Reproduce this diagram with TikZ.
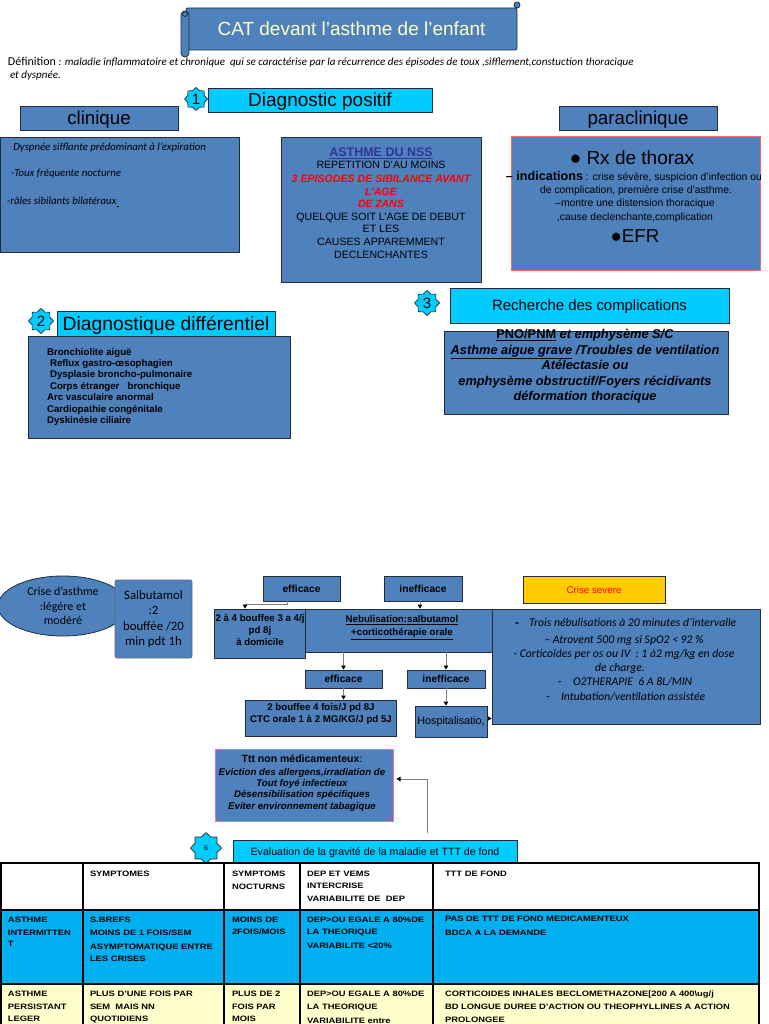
\documentclass[tikz,border=0pt]{standalone}
\usepackage{fontspec}
\setmainfont{Liberation Sans}
\newfontfamily\calfont{Carlito}
\newfontfamily\tblfont[FakeStretch=1.2]{Liberation Sans}
\usetikzlibrary{shapes.geometric,arrows.meta}
\definecolor{bF}{HTML}{4F81BD}
\definecolor{cF}{HTML}{00CCFF}
\definecolor{tC}{HTML}{00B0F0}
\definecolor{yR}{HTML}{FFFFCC}
\definecolor{bd}{HTML}{1F2D3D}
\definecolor{navy}{HTML}{333399}
\definecolor{pinkb}{HTML}{FF66CC}
\definecolor{redb}{HTML}{FF6666}
\definecolor{gold}{HTML}{FFCC00}
\definecolor{ttl}{HTML}{FFFFCC}
\newcommand\fs[2]{\fontsize{#1}{#2}\selectfont}
\newcounter{tn}
\newcommand\bx[7]{\node[#6, inner sep=0pt, minimum width={(#4-#2)*1pt}, minimum height={(#5-#3)*1pt}] (#1) at ({(#2+#4)/2},{(#3+#5)/2}) {#7};}
\newcommand\putt[4][]{\stepcounter{tn}\node[lbl,anchor=base,#1] (p\thetn) at (#2,#3) {#4};}
\begin{document}
\begin{tikzpicture}[x=1pt,y=-1pt,
  bb/.style={fill=bF, draw=bd, line width=0.8pt},
  cb/.style={fill=cF, draw=bd, line width=0.8pt},
  hd/.style={text depth=0pt},
  lbl/.style={inner sep=0pt, outer sep=0pt},
  conn/.style={draw=gray, line width=0.8pt, -{Triangle[length=4pt,width=4.5pt,color=black]}},
  badge/.style={star, star points=8, star point ratio=1.3, fill=cF, draw=bd, line width=0.7pt, inner sep=0pt},
  tfont/.style={font=\tblfont\bfseries\fs{7.8}{9}}]
\useasboundingbox (0,0) rectangle (768,1024);
\fill[white] (0,0) rectangle (768,1024);

% title scroll
\bx{title}{186}{8}{517}{50}{bb, hd, rounded corners=2pt}{\color{ttl}\fs{19}{22}CAT devant l’asthme de l’enfant}
\draw[bb] (517,5) circle (3);
\draw[bb, rounded corners=4pt] (181,11) rectangle (189,57);
\draw[bb] (185,14) circle (2.5);

% definition
\putt[anchor=base west]{8}{65.5}{\calfont\fs{12}{14}Définition {\itshape\fs{11}{13}: maladie inflammatoire et chronique\ \ qui se caractérise par la récurrence des épisodes de toux ,sifflement,constuction thoracique}}
\putt[anchor=base west]{10}{78.5}{\calfont\itshape\fs{11}{13}et dyspnée.}

% diagnostic positif
\node[badge, minimum size=23pt] (b1) at (196,99) {\fs{15}{15}1};
\bx{dp}{208}{88}{432}{112}{cb, hd}{\fs{19}{22}Diagnostic positif}

% clinique
\bx{cli}{20}{106}{178}{130}{bb, hd}{\fs{18.7}{21}clinique}
\bx{clic}{0}{137}{239}{252}{bb}{}
\putt[anchor=base west]{10}{150.5}{\calfont\itshape\fs{10.8}{13}{\color{red}-}Dyspnée sifflante prédominant à l’expiration}
\putt[anchor=base west]{11}{176.5}{\calfont\itshape\fs{10.8}{13}-Toux fréquente nocturne}
\putt[anchor=base west]{7}{204.5}{\calfont\itshape\fs{10.8}{13}-râles sibilants bilatéraux\underline{\ }}

% asthme du nss
\bx{nss}{281}{137}{481}{282}{bb}{}
\putt{381}{156.5}{\bfseries\fs{12.5}{14}\color{navy}\underline{ASTHME DU NSS}}
\putt{381}{168.8}{\fs{10.6}{12}REPETITION D’AU MOINS}
\putt{381}{182.8}{\bfseries\itshape\fs{10.6}{12}\color{red}3 EPISODES DE SIBILANCE AVANT}
\putt{381}{195.8}{\bfseries\itshape\fs{10.6}{12}\color{red}L’AGE}
\putt{381}{207.8}{\bfseries\itshape\fs{10.6}{12}\color{red}DE 2ANS}
\putt{381}{220.8}{\fs{10.6}{12}QUELQUE SOIT L’AGE DE DEBUT}
\putt{381}{232.8}{\fs{10.6}{12}ET LES}
\putt{381}{245.8}{\fs{10.6}{12}CAUSES APPAREMMENT}
\putt{381}{258.8}{\fs{10.6}{12}DECLENCHANTES}

% paraclinique
\bx{para}{559}{106}{717}{130}{bb, hd}{\fs{18.7}{21}paraclinique}
\bx{parac}{511}{137}{760}{270}{fill=bF, draw=redb, line width=1pt}{}
\putt{632}{165}{\fs{19}{21}● Rx de thorax}
\putt{634}{181}{{\bfseries\fs{12.6}{14}– indications}\fs{10.4}{12} : crise sévère, suspicion d’infection ou}
\putt{636}{193.7}{\fs{10.4}{12}de complication, première crise d’asthme.}
\putt{635}{206.7}{\fs{10.4}{12}–montre une distension thoracique}
\putt{635}{220.7}{\fs{10.4}{12},cause declenchante,complication}
\putt{635}{242.7}{\fs{18.7}{21}●EFR}

% complications
\node[badge, minimum size=25pt] (b3) at (427,303) {\fs{15}{15}3};
\bx{rc}{450}{288}{729}{323}{cb, hd}{\fs{14.9}{17}Recherche des complications}
\bx{comp}{444}{331}{728}{414}{bb}{}
\putt{585}{338.6}{\bfseries\itshape\fs{12.8}{14}\underline{\upshape PNO/PNM} et emphysème S/C}
\putt{585}{354.6}{\bfseries\itshape\fs{12.8}{14}\underline{Asthme aigue grave} /Troubles de ventilation}
\putt{585}{369.6}{\bfseries\itshape\fs{12.8}{14}Atélectasie ou}
\putt{585}{385.6}{\bfseries\itshape\fs{12.8}{14}emphysème obstructif/Foyers récidivants}
\putt{585}{400.6}{\bfseries\itshape\fs{12.8}{14}déformation thoracique}

% diagnostic differentiel
\node[badge, minimum size=25pt] (b2) at (41,321) {\fs{15}{15}2};
\bx{dd}{57}{311}{275}{336}{cb, hd}{\fs{19.3}{22}Diagnostique différentiel}
\bx{ddc}{28}{336}{290}{438}{bb}{}
\putt[anchor=base west]{47}{355.5}{\bfseries\fs{9.7}{11}Bronchiolite aiguë}
\putt[anchor=base west]{50}{366.5}{\bfseries\fs{9.7}{11}Reflux gastro-œsophagien}
\putt[anchor=base west]{50}{377.5}{\bfseries\fs{9.7}{11}Dysplasie broncho-pulmonaire}
\putt[anchor=base west]{50}{389.5}{\bfseries\fs{9.7}{11}Corps étranger\ \ \ bronchique}
\putt[anchor=base west]{47}{400.5}{\bfseries\fs{9.7}{11}Arc vasculaire anormal}
\putt[anchor=base west]{47}{412.5}{\bfseries\fs{9.7}{11}Cardiopathie congénitale}
\putt[anchor=base west]{47}{423.5}{\bfseries\fs{9.7}{11}Dyskinésie ciliaire}

% crise d'asthme
\node[ellipse, bb, minimum width=130pt, minimum height=60pt, align=center, font=\calfont\fs{12}{14.8}, inner sep=0pt] (crise) at (63,606) {Crise d’asthme\\:légére et\\modéré};
\bx{salb}{115}{580}{192}{658}{fill=bF, draw=bd!70, line width=0.8pt, rounded corners=2pt, align=center, font=\calfont\fs{12.8}{15.6}}{Salbutamol\\:2\\bouffée /20\\min pdt 1h}
\bx{eff1}{263}{576}{340}{601}{bb, hd}{\bfseries\fs{10.2}{12}efficace}
\bx{ineff1}{384}{576}{462}{601}{bb, hd}{\bfseries\fs{10.2}{12}inefficace}
\bx{sev}{523}{576}{665}{603}{fill=gold, draw=bd, line width=0.8pt}{\fs{9.8}{12}\color{red}Crise severe}
\bx{dom}{214}{609}{305}{658}{bb}{}
\putt{260}{621.5}{\bfseries\fs{9.7}{11}2 à 4 bouffee 3 a 4/j}
\putt{260}{633}{\bfseries\fs{9.7}{11}pd 8j}
\putt{260}{645}{\bfseries\fs{9.7}{11}à domicile}
\bx{neb}{305}{609}{493}{652}{bb}{}
\putt{402}{622.5}{\bfseries\fs{9.7}{11}\underline{Nebulisation:salbutamol}}
\putt{402}{635.5}{\bfseries\fs{9.7}{11}\underline{+corticothérapie orale}}
\bx{big}{492}{609}{760}{724}{bb}{}
\putt{517}{626.5}{\bfseries\fs{11.7}{13}-}
\putt[anchor=base west]{529}{626.5}{\calfont\itshape\fs{11.7}{13}Trois nébulisations à 20 minutes d’intervalle}
\putt{624}{643.5}{\calfont\itshape\fs{11.7}{13}– Atrovent 500 mg si SpO2 < 92 \%}
\putt{624}{657.5}{\calfont\itshape\fs{11.7}{13}- Corticoïdes per os ou IV\ \ : 1 à2 mg/kg en dose}
\putt{620}{671.5}{\calfont\itshape\fs{11.7}{13}de charge.}
\putt{560}{685.5}{\calfont\fs{11.7}{13}-}
\putt[anchor=base west]{573}{685.5}{\calfont\itshape\fs{11.7}{13}O2THERAPIE\ \ 6 A 8L/MIN}
\putt{548}{700.5}{\calfont\fs{11.7}{13}-}
\putt[anchor=base west]{561}{700.5}{\calfont\itshape\fs{11.7}{13}Intubation/ventilation assistée}
\bx{eff2}{305}{670}{382}{688}{bb, hd}{\bfseries\fs{10.2}{12}efficace}
\bx{ineff2}{407}{670}{485}{688}{bb, hd}{\bfseries\fs{10.2}{12}inefficace}
\bx{ctc}{245}{700}{396}{736}{bb}{}
\putt{321}{710.5}{\bfseries\fs{9.7}{11}2 bouffee 4 fois/J pd 8J}
\putt{321}{722.5}{\bfseries\fs{9.7}{11}CTC orale 1 à 2 MG/KG/J pd 5J}
\bx{hosp}{415}{706}{487}{737}{bb}{\fs{10.8}{12}Hospitalisatio,}

\draw[conn] ([xshift=-14.5pt]eff1.south) -- ++(0,3) -| ([xshift=-14.5pt]dom.north);
\draw[conn] ([xshift=-3pt]ineff1.south) -- ([xshift=-3pt]ineff1.south |- neb.north);
\draw[conn] (eff2.north |- neb.south) -- (eff2.north);
\draw[conn] (ineff2.north |- neb.south) -- (ineff2.north);
\draw[conn] (eff2.south) -- (eff2.south |- ctc.north);
\draw[conn] (ineff2.south) -- (ineff2.south |- hosp.north);
\draw[conn] ([yshift=3pt]hosp.east) -- ([yshift=3pt]hosp.east -| big.west);

% ttt non medicamenteux
\bx{tnm}{215}{749}{393}{821}{fill=bF, draw=pinkb, line width=1pt}{}
\putt{302}{762.5}{{\bfseries\fs{10.5}{12}Ttt non médicamenteux}\fs{10.5}{12}:}
\putt{302}{775.5}{\bfseries\itshape\fs{9.7}{11}Eviction des allergens,irradiation de}
\putt{302}{786.5}{\bfseries\itshape\fs{9.7}{11}Tout foyé infectieux}
\putt{302}{797}{\bfseries\itshape\fs{9.7}{11}Désensibilisation spécifiques}
\putt{302}{809.5}{\bfseries\itshape\fs{9.7}{11}Eviter environnement tabagique}

% evaluation
\node[badge, minimum size=31pt] (b6) at (206,848) {\fs{7}{8}6};
\bx{ev}{233}{840}{517}{864}{cb, hd}{\fs{10.6}{12}Evaluation de la gravité de la maladie et TTT de fond}
\draw[conn, shorten >=3pt] ([xshift=52pt,yshift=7pt]ev.north) |- ([yshift=6pt]tnm.east);

% table
\fill[white] (0,863) rectangle (759,910);
\fill[tC] (0,910) rectangle (759,984);
\fill[yR] (0,984) rectangle (759,1024);
\draw[line width=2.5pt] (0,863) -- (759,863);
\draw[line width=1.8pt] (0,910) -- (759,910);
\draw[line width=1.8pt] (0,984) -- (759,984);
\draw[line width=1.8pt] (1,863) -- (1,1024);
\draw[line width=1.5pt] (83,863) -- (83,1024);
\draw[line width=1.5pt] (224,863) -- (224,1024);
\draw[line width=1.5pt] (300,863) -- (300,1024);
\draw[line width=1.5pt] (433,863) -- (433,1024);
\draw[line width=2.5pt] (759,862) -- (759,1024);

\putt[anchor=base west,tfont]{90}{876.8}{SYMPTOMES}
\putt[anchor=base west,tfont]{232}{876.8}{SYMPTOMS}
\putt[anchor=base west,tfont]{232}{889.8}{NOCTURNS}
\putt[anchor=base west,tfont]{307}{876.8}{DEP ET VEMS}
\putt[anchor=base west,tfont]{307}{888.8}{INTERCRISE}
\putt[anchor=base west,tfont]{307}{901.8}{VARIABILITE DE\ \ DEP}
\putt[anchor=base west,tfont]{445}{876.8}{TTT DE FOND}

\putt[anchor=base west,tfont]{8}{922.8}{ASTHME}
\putt[anchor=base west,tfont]{8}{935.8}{INTERMITTEN}
\putt[anchor=base west,tfont]{8}{946.8}{T}
\putt[anchor=base west,tfont]{90}{922.8}{S.BREFS}
\putt[anchor=base west,tfont]{90}{935.8}{MOINS DE 1 FOIS/SEM}
\putt[anchor=base west,tfont]{90}{949.8}{ASYMPTOMATIQUE ENTRE}
\putt[anchor=base west,tfont]{90}{961.8}{LES CRISES}
\putt[anchor=base west,tfont]{232}{922.8}{MOINS DE}
\putt[anchor=base west,tfont]{232}{934.8}{2FOIS/MOIS}
\putt[anchor=base west,tfont]{307}{922.8}{DEP>OU EGALE A 80\%DE}
\putt[anchor=base west,tfont]{307}{934.8}{LA THEORIQUE}
\putt[anchor=base west,tfont]{307}{948.8}{VARIABILITE <20\%}
\putt[anchor=base west,tfont]{445}{921.8}{PAS DE TTT DE FOND MEDICAMENTEUX}
\putt[anchor=base west,tfont]{445}{935.8}{BDCA A LA DEMANDE}

\putt[anchor=base west,tfont]{8}{996.8}{ASTHME}
\putt[anchor=base west,tfont]{8}{1009.8}{PERSISTANT}
\putt[anchor=base west,tfont]{8}{1021.8}{LEGER}
\putt[anchor=base west,tfont]{90}{996.8}{PLUS D’UNE FOIS PAR}
\putt[anchor=base west,tfont]{90}{1009.8}{SEM\ \ MAIS NN}
\putt[anchor=base west,tfont]{90}{1021.8}{QUOTIDIENS}
\putt[anchor=base west,tfont]{232}{996.8}{PLUS DE 2}
\putt[anchor=base west,tfont]{232}{1009.8}{FOIS PAR}
\putt[anchor=base west,tfont]{232}{1021.8}{MOIS}
\putt[anchor=base west,tfont]{307}{996.8}{DEP>OU EGALE A 80\%DE}
\putt[anchor=base west,tfont]{307}{1009.8}{LA THEORIQUE}
\putt[anchor=base west,tfont]{307}{1023.8}{VARIABILITE entre}
\putt[anchor=base west,tfont]{445}{996.8}{CORTICOIDES INHALES BECLOMETHAZONE[200 A 400\textbackslash ug/j}
\putt[anchor=base west,tfont]{445}{1009.8}{BD LONGUE DUREE D’ACTION OU THEOPHYLLINES A ACTION}
\putt[anchor=base west,tfont]{445}{1022.8}{PROLONGEE}
\end{tikzpicture}
\end{document}
